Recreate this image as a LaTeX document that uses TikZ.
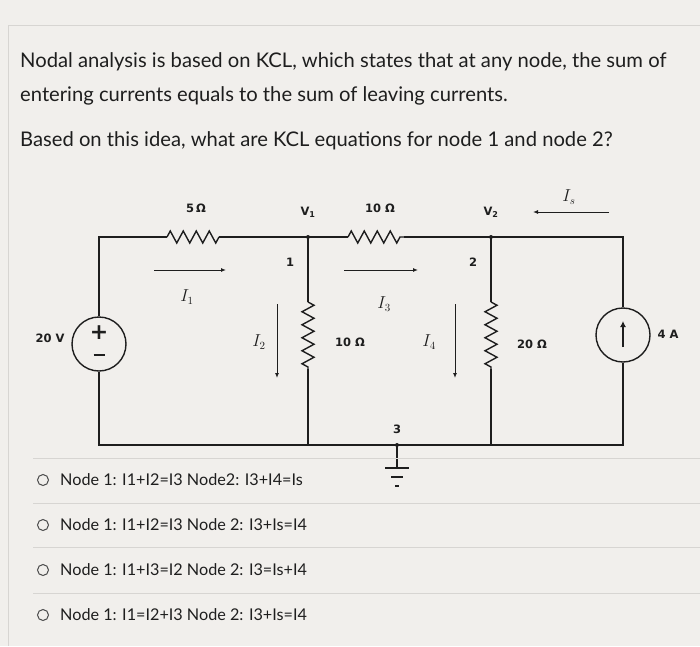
\documentclass[tikz,border=0pt]{standalone}
\usepackage{fontspec}
\setmainfont{Lato}
\newfontfamily\lab{DejaVu Sans}
\newfontfamily\ital{Liberation Serif}
\usetikzlibrary{decorations.pathmorphing,arrows.meta}
\definecolor{bg}{RGB}{241,239,236}
\definecolor{ink}{RGB}{30,30,30}
\definecolor{sep}{RGB}{215,213,210}
\begin{document}
\begin{tikzpicture}[x=1pt,y=-1pt,
  wire/.style={line width=1.4pt,ink},
  res/.style={wire,decorate,decoration={zigzag,segment length=13pt,amplitude=6pt}},
  lbl/.style={font=\lab\bfseries\fontsize{11.5}{13}\selectfont,text=ink},
  cur/.style={font=\ital\itshape\fontsize{16}{18}\selectfont,text=ink},
  carr/.style={line width=1pt,ink,-{Latex[length=5pt,width=4pt]}},
  txt/.style={font=\fontsize{20.2}{24}\selectfont,text=ink,anchor=west,inner sep=0},
  opt/.style={font=\fontsize{16.2}{18}\selectfont,text=ink,anchor=west,inner sep=0},
  radio/.style={circle,draw=ink!80,line width=1pt,minimum size=11pt,inner sep=0}]
\fill[bg] (0,0) rectangle (700,646);
\useasboundingbox (0,0) rectangle (700,646);
\draw[sep,line width=0.8pt] (8,25) -- (8,646);
\draw[sep,line width=0.8pt] (8,25) -- (700,25);
% text
\node[txt] (t1) at (20,62) {Nodal analysis is based on KCL, which states that at any node, the sum of};
\node[txt] (t2) at (20,96) {entering currents equals to the sum of leaving currents.};
\node[txt] (t3) at (20,141) {Based on this idea, what are KCL equations for node 1 and node 2?};
% coordinates
\coordinate (tl) at (99,237);
\coordinate (bl) at (99,445);
\coordinate (n1) at (308,237);
\coordinate (n2) at (491,237);
\coordinate (tr) at (623,237);
\coordinate (br) at (623,445);
\coordinate (b1) at (308,445);
\coordinate (b2) at (491,445);
\coordinate (g) at (397,445);
\coordinate (g1) at (397,468);
\coordinate (r1a) at (167,237); \coordinate (r1b) at (219,237);
\coordinate (r2a) at (348,237); \coordinate (r2b) at (404,237);
\coordinate (r3a) at (308,302); \coordinate (r3b) at (308,369);
\coordinate (r4a) at (491,302); \coordinate (r4b) at (491,369);
\node[circle,draw=ink,line width=1.4pt,minimum size=54pt,inner sep=0] (vs) at (99,344) {};
\node[circle,draw=ink,line width=1.4pt,minimum size=54pt,inner sep=0] (cs) at (623,335) {};
% wires
\draw[wire] (vs.north) -- (tl) -- (r1a);
\draw[res] (r1a) -- (r1b);
\draw[wire] (r1b) -- (n1) -- (r2a);
\draw[res] (r2a) -- (r2b);
\draw[wire] (r2b) -- (n2) -- (tr) -- (cs.north);
\draw[wire] (cs.south) -- (br) -- (bl) -- (vs.south);
\draw[wire] (n1) -- (r3a); \draw[res] (r3a) -- (r3b); \draw[wire] (r3b) -- (b1);
\draw[wire] (n2) -- (r4a); \draw[res] (r4a) -- (r4b); \draw[wire] (r4b) -- (b2);
\draw[wire] (g) -- (g1);
\draw[wire] (385,468) -- (409,468);
\draw[wire] (391,477) -- (403,477);
\draw[wire] (395,486) -- (399,486);
\fill[ink] (n1) circle (2pt) (n2) circle (2pt) (g) circle (2pt);
% source symbols
\node[font=\lab\bfseries\fontsize{22}{22}\selectfont,text=ink,inner sep=0] (plus) at (99,333) {+};
\node[inner sep=0] (minus) at (99,355) {\color{ink}\rule{11pt}{1.8pt}};
\coordinate (ca) at (623,347); \coordinate (cb) at (623,321);
\draw[wire,-{Latex[length=6pt,width=6pt]}] (ca) -- (cb);
% labels
\node[lbl] (l5) at (196,208) {5\,Ω};
\node[lbl] (lv1) at (308,212) {V\textsubscript{1}};
\node[lbl] (l10a) at (380,208) {10 Ω};
\node[lbl] (lv2) at (491,212) {V\textsubscript{2}};
\node[lbl] (ln1) at (290,262) {1};
\node[lbl] (ln2) at (473,262) {2};
\node[lbl] (ln3) at (397,429) {3};
\node[lbl] (l10b) at (350,342) {10 Ω};
\node[lbl] (l20) at (532,344) {20 Ω};
\node[lbl] (l20v) at (50,338) {20 V};
\node[lbl] (l4a) at (668,334) {4 A};
% currents
\coordinate (i1a) at (154,270); \coordinate (i1b) at (226,270);
\coordinate (i3a) at (344,270); \coordinate (i3b) at (418,270);
\coordinate (i2a) at (277,304); \coordinate (i2b) at (277,378);
\coordinate (i4a) at (455,304); \coordinate (i4b) at (455,378);
\coordinate (isa) at (609,212); \coordinate (isb) at (533,212);
\draw[carr] (i1a) -- (i1b);
\draw[carr] (i3a) -- (i3b);
\draw[carr] (i2a) -- (i2b);
\draw[carr] (i4a) -- (i4b);
\draw[carr] (isa) -- (isb);
\node[cur] (li1) at (187,297) {$I_1$};
\node[cur] (li3) at (384,304) {$I_3$};
\node[cur] (li2) at (259,342) {$I_2$};
\node[cur] (li4) at (429,342) {$I_4$};
\node[cur] (lis) at (569,197) {$I_s$};
% options
\draw[sep,line width=0.8pt] (33,458) -- (700,458);
\draw[sep,line width=0.8pt] (33,503) -- (700,503);
\draw[sep,line width=0.8pt] (33,547) -- (700,547);
\draw[sep,line width=0.8pt] (33,593) -- (700,593);
\node[radio] (c1) at (43,480) {};
\node[radio] (c2) at (43,525) {};
\node[radio] (c3) at (43,570) {};
\node[radio] (c4) at (43,615) {};
\node[opt] (o1) at (60,480) {Node 1: I1+I2=I3 Node2: I3+I4=Is};
\node[opt] (o2) at (60,525) {Node 1: I1+I2=I3 Node 2: I3+Is=I4};
\node[opt] (o3) at (60,570) {Node 1: I1+I3=I2 Node 2: I3=Is+I4};
\node[opt] (o4) at (60,615) {Node 1: I1=I2+I3 Node 2: I3+Is=I4};
\end{tikzpicture}
\end{document}
